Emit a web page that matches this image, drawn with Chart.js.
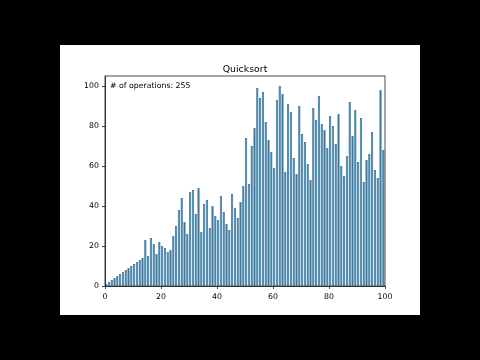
<!DOCTYPE html>
<html lang="en">
<head>
    <meta charset="UTF-8">
    <title>Quicksort</title>
    <script src="https://cdn.jsdelivr.net/npm/chart.js"></script>
    <style>
        html, body {
            margin: 0;
            padding: 0;
            background: #000;
            width: 480px;
            height: 360px;
            overflow: hidden;
        }

        /* white figure area */
        .figure {
            position: absolute;
            left: 60px;
            top: 45px;
            width: 360px;
            height: 270px;
            background: #fff;
        }
    </style>
</head>
<body>

<div class="figure">
    <canvas id="sortChart" width="360" height="270"></canvas>
</div>

<script>
// array state after the sort steps (index -> value)
const values = [
   1,  2,  3,  4,  5,  6,  7,  8,  9, 10,
  11, 12, 13, 14, 23, 15, 24, 21, 16, 22,
  20, 19, 17, 18, 25, 30, 38, 44, 32, 26,
  47, 48, 36, 49, 27, 41, 43, 29, 40, 35,
  33, 45, 37, 31, 28, 46, 39, 34, 42, 50,
  74, 51, 70, 79, 99, 94, 97, 82, 73, 67,
  59, 93, 100, 96, 57, 91, 87, 64, 56, 90,
  76, 72, 61, 53, 89, 83, 95, 81, 78, 69,
  85, 80, 71, 86, 60, 55, 65, 92, 75, 88,
  62, 84, 52, 63, 66, 77, 58, 54, 98, 68
];
const xTicks = [0, 20, 40, 60, 80, 100];
const yTicks = [0, 20, 40, 60, 80, 100];
const titleText = 'Quicksort';
const opCount = 255;

const font = 'DejaVu Sans';

// bars drawn edge-aligned like matplotlib align='edge', width 0.8
const points = values.map((v, i) => ({ x: i + 0.4, y: v }));

// full box around the axes + the operations label + title
const axesDecor = {
  id: 'axesDecor',
  afterDraw(chart) {
    const { ctx, chartArea: a } = chart;
    ctx.save();
    ctx.strokeStyle = '#000';
    ctx.lineWidth = 0.7;
    ctx.strokeRect(a.left, a.top, a.right - a.left, a.bottom - a.top);

    ctx.fillStyle = '#000';
    ctx.font = '7.8px "' + font + '"';
    ctx.textAlign = 'left';
    ctx.textBaseline = 'alphabetic';
    ctx.fillText('# of operations: ' + opCount, a.left + 5, a.top + 11.5);

    ctx.font = '9.4px "' + font + '"';
    ctx.textAlign = 'center';
    ctx.fillText(titleText, (a.left + a.right) / 2, a.top - 4.5);
    ctx.restore();
  }
};

new Chart(document.getElementById('sortChart'), {
  type: 'bar',
  data: {
    datasets: [{
      data: points,
      backgroundColor: '#287cae',
      borderColor: '#1a4866',
      borderWidth: 0.6,
      barPercentage: 1.0,
      categoryPercentage: 0.82
    }]
  },
  options: {
    responsive: false,
    animation: false,
    layout: { padding: { left: 0, right: 35, top: 31, bottom: 0 } },
    plugins: {
      legend: { display: false },
      tooltip: { enabled: false },
      title: { display: false }
    },
    scales: {
      x: {
        type: 'linear',
        min: 0,
        max: 100,
        offset: false,
        afterFit: s => { s.height = 29; },
        afterBuildTicks: s => { s.ticks = xTicks.map(v => ({ value: v })); },
        grid: { display: true, offset: false, drawOnChartArea: false, drawTicks: true, tickLength: 3, color: '#000', lineWidth: 0.7 },
        border: { display: true, color: '#000', width: 0.7 },
        ticks: { color: '#000', padding: 3, maxRotation: 0, font: { family: font, size: 7.8 } }
      },
      y: {
        min: 0,
        max: 105,
        afterFit: s => { s.width = 45; },
        afterBuildTicks: s => { s.ticks = yTicks.map(v => ({ value: v })); },
        grid: { display: true, drawOnChartArea: false, drawTicks: true, tickLength: 3, color: '#000', lineWidth: 0.7 },
        border: { display: true, color: '#000', width: 0.7 },
        ticks: { color: '#000', padding: 3, font: { family: font, size: 7.8 } }
      }
    }
  },
  plugins: [axesDecor]
});
</script>

</body>
</html>
